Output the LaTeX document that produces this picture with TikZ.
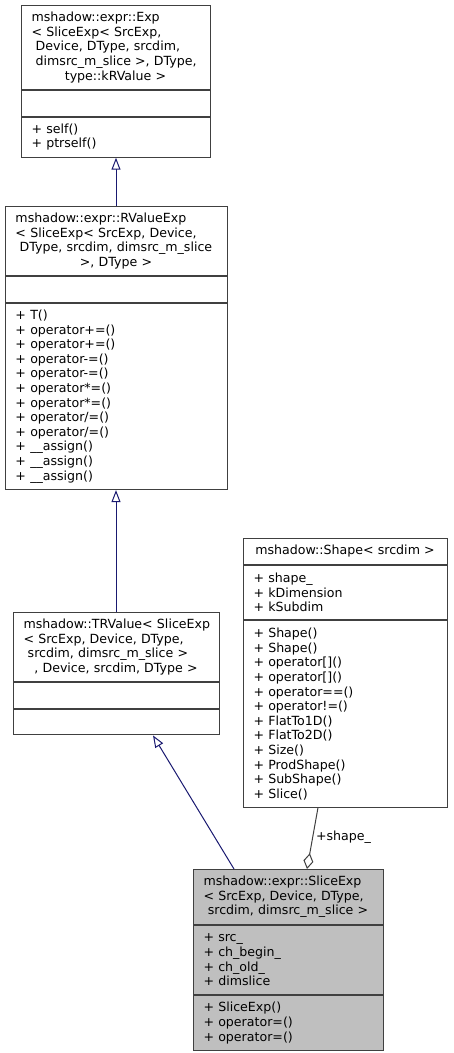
\documentclass[tikz,border=0pt]{standalone}
\usepackage{fontspec}
\setmainfont{DejaVu Sans}
\usetikzlibrary{positioning,arrows.meta}
\definecolor{navy}{HTML}{191970}
\definecolor{edgegray}{HTML}{404040}
\definecolor{grey75}{HTML}{BFBFBF}
\newcommand{\row}[1]{\mbox{#1}}
\newcommand{\crow}[1]{\makebox[\linewidth]{#1}}
\begin{document}
\begin{tikzpicture}[x=1pt, y=-1pt, cls/.style 2 args={draw=black!75,
      line width=1pt, fill=white, inner xsep=10.5pt, inner ysep=0pt,
      minimum width=#1, text width=#2, align=left,
      font=\fontsize{12.6}{14.6}\selectfont}, ht/.style={minimum
      height=#1}]
    \useasboundingbox (0,0) rectangle (453,1053);

    \begin{scope}[every node/.style={cls={189pt}{168pt}}]
      \node [ht=84pt, anchor=north] (exp) at (115.5,5)
      {\row{mshadow::expr::Exp}\\ \row{< SliceExp< SrcExp,}\\
        \row{\ Device, DType, srcdim,}\\ \row{\ dimsrc\_m\_slice >,
          DType,}\\ \crow{type::kRValue >}}; \node [ht=25.5pt,
      below=0pt of exp] (exp-a) {}; \node [ht=40.2pt, below=0pt of
      exp-a] (exp-m) {\row{+ self()}\\ \row{+ ptrself()}};
    \end{scope}

    \begin{scope}[every node/.style={cls={222pt}{201pt}}]
      \node [ht=69.4pt, anchor=north] (rv) at (116,206)
      {\row{mshadow::expr::RValueExp}\\ \row{< SliceExp< SrcExp,
          Device,}\\ \row{\ DType, srcdim, dimsrc\_m\_slice}\\
        \crow{>, DType >}}; \node [ht=25.5pt, below=0pt of rv] (rv-a)
      {}; \node [ht=186.2pt, below=0pt of rv-a] (rv-m) {\row{+ T()}\\
        \row{+ operator+=()}\\ \row{+ operator+=()}\\ \row{+
          operator-=()}\\ \row{+ operator-=()}\\ \row{+ operator*=()}\\
        \row{+ operator*=()}\\ \row{+ operator/=()}\\ \row{+
          operator/=()}\\ \row{+ \_\_assign()}\\ \row{+ \_\_assign()}\\
        \row{+ \_\_assign()}};
    \end{scope}

    \begin{scope}[every node/.style={cls={206pt}{185pt}}]
      \node [ht=69.4pt, anchor=north] (trv) at (116,612)
      {\row{mshadow::TRValue< SliceExp}\\ \row{< SrcExp, Device,
          DType,}\\ \row{\ srcdim, dimsrc\_m\_slice >}\\ \crow{,
          Device, srcdim, DType >}}; \node [ht=25.5pt, below=0pt of
      trv] (trv-a) {}; \node [ht=25.5pt, below=0pt of trv-a] (trv-m)
      {};
    \end{scope}

    \begin{scope}[every node/.style={cls={204pt}{183pt}}]
      \node [ht=25.6pt, anchor=north] (shape) at (345,538)
      {\crow{mshadow::Shape< srcdim >}}; \node [ht=54.8pt, below=0pt
      of shape] (shape-a) {\row{+ shape\_}\\ \row{+ kDimension}\\
        \row{+ kSubdim}}; \node [ht=186.2pt, below=0pt of shape-a]
      (shape-m) {\row{+ Shape()}\\ \row{+ Shape()}\\ \row{+
          operator[]()}\\ \row{+ operator[]()}\\ \row{+ operator==()}\\
        \row{+ operator!=()}\\ \row{+ FlatTo1D()}\\ \row{+
          FlatTo2D()}\\ \row{+ Size()}\\ \row{+ ProdShape()}\\ \row{+
          SubShape()}\\ \row{+ Slice()}};
    \end{scope}

    \begin{scope}[every node/.style={cls={190pt}{169pt}, fill=grey75}]
      \node [ht=54.8pt, anchor=north] (slice) at (288,869)
      {\row{mshadow::expr::SliceExp}\\ \row{< SrcExp, Device,
          DType,}\\ \crow{srcdim, dimsrc\_m\_slice >}}; \node
      [ht=69.4pt, below=0pt of slice] (slice-a) {\row{+ src\_}\\
        \row{+ ch\_begin\_}\\ \row{+ ch\_old\_}\\ \row{+ dimslice}};
      \node [ht=54.8pt, below=0pt of slice-a] (slice-m) {\row{+
          SliceExp()}\\ \row{+ operator=()}\\ \row{+ operator=()}};
    \end{scope}

    \begin{scope}[navy, line width=1pt, -{Triangle[open, length=12pt,
        width=9pt, fill=white]}]
      \draw (rv.north) -- (rv.north |- exp-m.south); \draw (trv.north)
      -- (trv.north |- rv-m.south); \draw ([xshift=-54pt]slice.north)
      -- ([xshift=37pt]trv-m.south);
    \end{scope}

    \draw [edgegray, line width=1pt, -{Diamond[open, length=16pt,
      width=10pt, fill=white]}] ([xshift=-27pt]shape-m.south) -- node
    [right, pos=0.49, inner sep=3pt, text=black,
    font=\fontsize{12.6}{14.6}\selectfont] {+shape\_}
    ([xshift=19pt]slice.north);
  \end{tikzpicture}
\end{document}
